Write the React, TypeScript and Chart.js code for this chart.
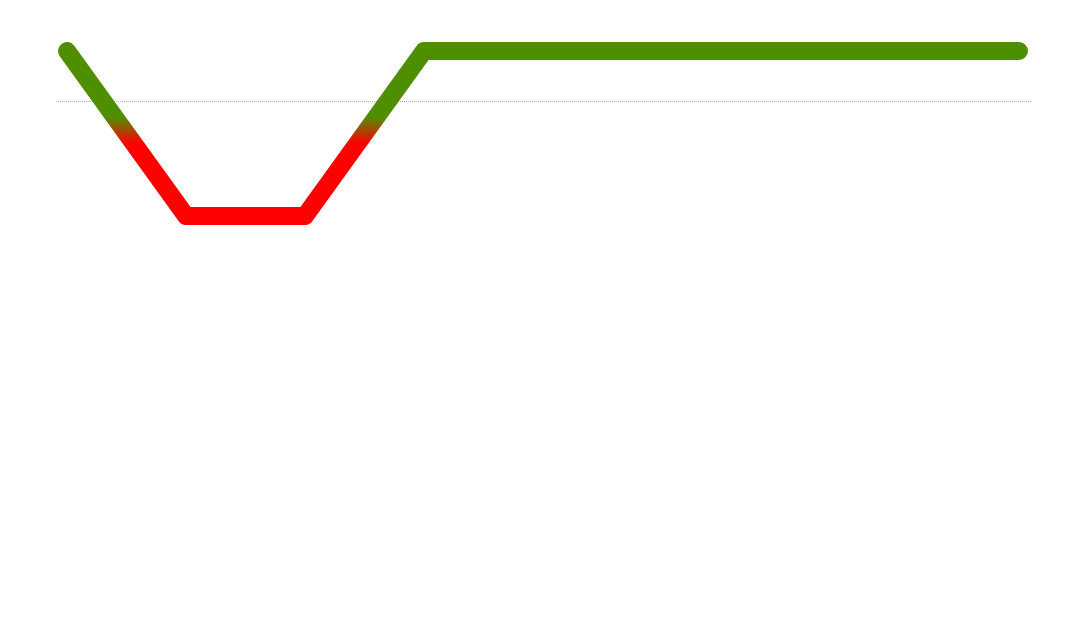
import React, { useEffect, useRef } from "react";
import { Chart, registerables } from "chart.js";

Chart.register(...registerables);

const labels: string[] = ["1", "2", "3", "4", "5", "6", "7", "8", "9"];
const values: number[] = [100, 50, 50, 100, 100, 100, 100, 100, 100];
const thresholdValue = 85;
const gradientGreenValue = 80;
const gradientRedValue = 72;

const GREEN = "rgb(78,143,0)";
const RED = "rgb(255,0,0)";

const thresholdPlugin = {
  id: "thresholdLine",
  beforeDatasetsDraw(chart: any) {
    const { ctx, chartArea, scales } = chart;
    const y = Math.round(scales.y.getPixelForValue(thresholdValue)) + 0.5;
    ctx.save();
    ctx.strokeStyle = "rgba(170,170,170,0.9)";
    ctx.lineWidth = 1;
    ctx.setLineDash([1, 1]);
    ctx.beginPath();
    ctx.moveTo(chartArea.left - 11, y);
    ctx.lineTo(chartArea.right + 13, y);
    ctx.stroke();
    ctx.restore();
  },
};

export default function App() {
  const ref = useRef<HTMLCanvasElement | null>(null);
  useEffect(() => {
    if (!ref.current) return;
    const chart = new Chart(ref.current, {
      type: "line",
      data: {
        labels,
        datasets: [
          {
            data: values,
            borderWidth: 18,
            borderCapStyle: "round",
            borderJoinStyle: "round",
            pointRadius: 0,
            pointHoverRadius: 0,
            tension: 0,
            fill: false,
            clip: false as any,
            borderColor: (c: any) => {
              const ch = c.chart;
              const { chartArea, scales } = ch;
              if (!chartArea) return GREEN;
              const y1 = scales.y.getPixelForValue(gradientGreenValue);
              const y2 = scales.y.getPixelForValue(gradientRedValue);
              const g = ch.ctx.createLinearGradient(0, y1, 0, y2);
              g.addColorStop(0, GREEN);
              g.addColorStop(1, RED);
              return g;
            },
          },
        ],
      },
      options: {
        animation: false,
        responsive: true,
        maintainAspectRatio: false,
        layout: { padding: { left: 67, right: 61, top: 51, bottom: 426 } },
        plugins: { legend: { display: false }, tooltip: { enabled: false } },
        scales: {
          x: { display: false, offset: false },
          y: { display: false, min: 50, max: 100 },
        },
      },
      plugins: [thresholdPlugin],
    });
    return () => chart.destroy();
  }, []);
  return (
    <div style={{ position: "fixed", left: 0, top: 0, width: 1080, height: 642, background: "#fff" }}>
      <canvas ref={ref} />
    </div>
  );
}
